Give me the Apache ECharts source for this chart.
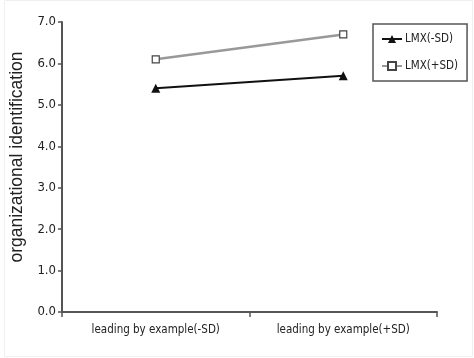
<!DOCTYPE html>
<html><head><meta charset="utf-8">
<script src="https://cdn.jsdelivr.net/npm/echarts@6/dist/echarts.min.js"></script>
<style>html,body{margin:0;padding:0;background:#fff}#c{width:474px;height:358px;}</style>
</head><body><div id="c"></div>
<script>
var categories = ['leading by example(-SD)', 'leading by example(+SD)'];
var lmxLow = [5.4, 5.7];
var lmxHigh = [6.1, 6.7];
var yTicks = [0, 1, 2, 3, 4, 5, 6, 7];

var font = '"Liberation Sans Narrow", "DejaVu Sans Condensed", "Liberation Sans", Arial, sans-serif';
var chart = echarts.init(document.getElementById('c'));
chart.setOption({
  animation: false,
  backgroundColor: '#fff',
  graphic: [{type:'rect', shape:{x:4.5,y:0.5,width:468,height:356}, style:{fill:'none', stroke:'#f0f0f0', lineWidth:1}, silent:true}],
  grid: {left: 62, right: 37, top: 22, bottom: 46, containLabel: false, outerBoundsMode: 'none'},
  legend: {
    left: 373, top: 24, orient: 'vertical', itemGap: 15,
    padding: [9, 9, 9, 8],
    borderColor: '#555', borderWidth: 1.5,
    itemWidth: 20, itemHeight: 10,
    textStyle: {fontFamily: font, fontSize: 11.5, color: '#222', padding: [0, 0, 0, -2]},
    data: ['LMX(-SD)', 'LMX(+SD)']
  },
  xAxis: {
    type: 'category', data: categories, boundaryGap: true,
    axisLine: {lineStyle: {color: '#555', width: 2}},
    axisTick: {show: true, length: 5, lineStyle: {color: '#555', width: 1.5}},
    axisLabel: {fontFamily: font, fontSize: 11.5, color: '#222', margin: 12}
  },
  yAxis: {
    type: 'value', min: 0, max: 7, interval: 1,
    name: 'organizational identification', nameLocation: 'middle', nameGap: 33,
    nameTextStyle: {fontFamily: '"Liberation Sans", Arial, sans-serif', fontSize: 17.5, color: '#222', padding: [0, 0, 0, 20]},
    axisLine: {show: true, lineStyle: {color: '#555', width: 2}},
    axisTick: {show: true, length: 4, lineStyle: {color: '#555', width: 1.5}},
    splitLine: {show: false},
    axisLabel: {fontFamily: font, fontSize: 13, color: '#222', margin: 6,
      formatter: function(v){ return v.toFixed(1); }}
  },
  series: [
    {name: 'LMX(-SD)', type: 'line', data: lmxLow, symbol: 'triangle', symbolSize: 9,
     lineStyle: {color: '#111', width: 2}, itemStyle: {color: '#111'}},
    {name: 'LMX(+SD)', type: 'line', data: lmxHigh, symbol: 'rect', symbolSize: 7,
     lineStyle: {color: '#999', width: 2.5}, itemStyle: {color: '#fff', borderColor: '#444', borderWidth: 1.2}}
  ]
});
</script></body></html>
